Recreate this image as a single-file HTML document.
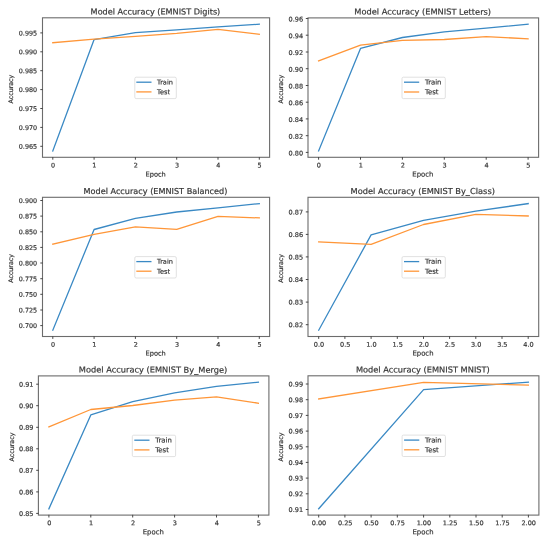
<!DOCTYPE html>
<html lang="en">
<head>
<meta charset="utf-8">
<title>Model Accuracy</title>
<style>
html,body{margin:0;padding:0;background:#fff;}
svg{display:block;}
text{font-family:"DejaVu Sans","Liberation Sans",sans-serif;fill:#363636;stroke:#363636;stroke-width:0.2px;}
.t{font-size:6.4px;}
.h{font-size:8.15px;}
.w .t{font-size:6.5px;}
.w .h{font-size:8.25px;}
.t.lb{font-size:6.6px;}
.w .t.lb{font-size:6.9px;}
.t.yl,.w .t.yl{font-size:6.3px;}
.sp{stroke:#6c6c6c;stroke-width:1.1;fill:none;}
.tk{stroke:#484848;stroke-width:1;}
.ln{fill:none;stroke-width:1.3;stroke-linejoin:round;stroke-linecap:square;}
</style>
</head>
<body>
<svg width="550" height="542" viewBox="0 0 550 542">
<rect width="550" height="542" fill="#ffffff"/>
<g>
<polyline class="ln" stroke="#3a89c4" points="52.8,151.0 94.1,39.6 135.4,32.7 176.7,29.9 218.0,26.9 259.3,24.2"/>
<polyline class="ln" stroke="#ff9638" points="52.8,42.7 94.1,39.1 135.4,36.3 176.7,33.3 218.0,29.3 259.3,34.2"/>
<rect class="sp" x="42.5" y="17.8" width="227.1" height="139.5"/>
<line class="tk" x1="52.8" y1="157.0" x2="52.8" y2="159.7"/><text class="t" text-anchor="middle" transform="translate(53.10,167.50) rotate(0.05)">0</text>
<line class="tk" x1="94.1" y1="157.0" x2="94.1" y2="159.7"/><text class="t" text-anchor="middle" transform="translate(94.40,167.50) rotate(0.05)">1</text>
<line class="tk" x1="135.4" y1="157.0" x2="135.4" y2="159.7"/><text class="t" text-anchor="middle" transform="translate(135.70,167.50) rotate(0.05)">2</text>
<line class="tk" x1="176.7" y1="157.0" x2="176.7" y2="159.7"/><text class="t" text-anchor="middle" transform="translate(177.00,167.50) rotate(0.05)">3</text>
<line class="tk" x1="218.0" y1="157.0" x2="218.0" y2="159.7"/><text class="t" text-anchor="middle" transform="translate(218.30,167.50) rotate(0.05)">4</text>
<line class="tk" x1="259.3" y1="157.0" x2="259.3" y2="159.7"/><text class="t" text-anchor="middle" transform="translate(259.60,167.50) rotate(0.05)">5</text>
<line class="tk" x1="40.3" y1="32.9" x2="42.8" y2="32.9"/><text class="t" text-anchor="end" transform="translate(37.10,35.40) rotate(0.05)">0.995</text>
<line class="tk" x1="40.3" y1="51.8" x2="42.8" y2="51.8"/><text class="t" text-anchor="end" transform="translate(37.10,54.30) rotate(0.05)">0.990</text>
<line class="tk" x1="40.3" y1="70.7" x2="42.8" y2="70.7"/><text class="t" text-anchor="end" transform="translate(37.10,73.20) rotate(0.05)">0.985</text>
<line class="tk" x1="40.3" y1="89.6" x2="42.8" y2="89.6"/><text class="t" text-anchor="end" transform="translate(37.10,92.10) rotate(0.05)">0.980</text>
<line class="tk" x1="40.3" y1="108.5" x2="42.8" y2="108.5"/><text class="t" text-anchor="end" transform="translate(37.10,111.00) rotate(0.05)">0.975</text>
<line class="tk" x1="40.3" y1="127.4" x2="42.8" y2="127.4"/><text class="t" text-anchor="end" transform="translate(37.10,129.90) rotate(0.05)">0.970</text>
<line class="tk" x1="40.3" y1="146.3" x2="42.8" y2="146.3"/><text class="t" text-anchor="end" transform="translate(37.10,148.80) rotate(0.05)">0.965</text>
<text class="h" text-anchor="middle" transform="translate(155.45,14.50) rotate(0.05)">Model Accuracy (EMNIST Digits)</text>
<text class="t lb" text-anchor="middle" transform="translate(155.65,176.40) rotate(0.05)">Epoch</text>
<text class="t yl" text-anchor="middle" transform="translate(13.3,89.1) rotate(-90)">Accuracy</text>
<rect x="134.8" y="77.2" width="41.5" height="21.4" rx="1.4" ry="1.4" fill="#fff" fill-opacity="0.8" stroke="#d4d4d4" stroke-width="0.7"/>
<line x1="136.3" y1="82.2" x2="151.5" y2="82.2" stroke="#3a89c4" stroke-width="1.3"/><line x1="136.3" y1="91.9" x2="151.5" y2="91.9" stroke="#ff9638" stroke-width="1.3"/>
<text class="t lb" transform="translate(157.10,84.50) rotate(0.05)">Train</text><text class="t lb" transform="translate(157.10,94.30) rotate(0.05)">Test</text>
</g>
<g class="w">
<polyline class="ln" stroke="#3a89c4" points="318.6,151.0 360.5,48.4 402.4,37.5 444.3,31.8 486.2,28.1 528.1,24.2"/>
<polyline class="ln" stroke="#ff9638" points="318.6,60.8 360.5,45.1 402.4,40.3 444.3,39.5 486.2,36.6 528.1,38.8"/>
<rect class="sp" x="308.0" y="17.9" width="230.6" height="139.4"/>
<line class="tk" x1="318.6" y1="157.0" x2="318.6" y2="159.7"/><text class="t" text-anchor="middle" transform="translate(318.90,167.50) rotate(0.05)">0</text>
<line class="tk" x1="360.5" y1="157.0" x2="360.5" y2="159.7"/><text class="t" text-anchor="middle" transform="translate(360.80,167.50) rotate(0.05)">1</text>
<line class="tk" x1="402.4" y1="157.0" x2="402.4" y2="159.7"/><text class="t" text-anchor="middle" transform="translate(402.70,167.50) rotate(0.05)">2</text>
<line class="tk" x1="444.3" y1="157.0" x2="444.3" y2="159.7"/><text class="t" text-anchor="middle" transform="translate(444.60,167.50) rotate(0.05)">3</text>
<line class="tk" x1="486.2" y1="157.0" x2="486.2" y2="159.7"/><text class="t" text-anchor="middle" transform="translate(486.50,167.50) rotate(0.05)">4</text>
<line class="tk" x1="528.1" y1="157.0" x2="528.1" y2="159.7"/><text class="t" text-anchor="middle" transform="translate(528.40,167.50) rotate(0.05)">5</text>
<line class="tk" x1="305.8" y1="18.5" x2="308.3" y2="18.5"/><text class="t" text-anchor="end" transform="translate(303.10,21.50) rotate(0.05)">0.96</text>
<line class="tk" x1="305.8" y1="35.2" x2="308.3" y2="35.2"/><text class="t" text-anchor="end" transform="translate(303.10,38.20) rotate(0.05)">0.94</text>
<line class="tk" x1="305.8" y1="52.0" x2="308.3" y2="52.0"/><text class="t" text-anchor="end" transform="translate(303.10,55.00) rotate(0.05)">0.92</text>
<line class="tk" x1="305.8" y1="68.7" x2="308.3" y2="68.7"/><text class="t" text-anchor="end" transform="translate(303.10,71.70) rotate(0.05)">0.90</text>
<line class="tk" x1="305.8" y1="85.5" x2="308.3" y2="85.5"/><text class="t" text-anchor="end" transform="translate(303.10,88.50) rotate(0.05)">0.88</text>
<line class="tk" x1="305.8" y1="102.2" x2="308.3" y2="102.2"/><text class="t" text-anchor="end" transform="translate(303.10,105.20) rotate(0.05)">0.86</text>
<line class="tk" x1="305.8" y1="118.9" x2="308.3" y2="118.9"/><text class="t" text-anchor="end" transform="translate(303.10,121.90) rotate(0.05)">0.84</text>
<line class="tk" x1="305.8" y1="135.7" x2="308.3" y2="135.7"/><text class="t" text-anchor="end" transform="translate(303.10,138.70) rotate(0.05)">0.82</text>
<line class="tk" x1="305.8" y1="152.4" x2="308.3" y2="152.4"/><text class="t" text-anchor="end" transform="translate(303.10,155.40) rotate(0.05)">0.80</text>
<text class="h" text-anchor="middle" transform="translate(422.70,14.60) rotate(0.05)">Model Accuracy (EMNIST Letters)</text>
<text class="t lb" text-anchor="middle" transform="translate(422.90,176.40) rotate(0.05)">Epoch</text>
<text class="t yl" text-anchor="middle" transform="translate(283.1,89.1) rotate(-90)">Accuracy</text>
<rect x="402.0" y="77.2" width="43.3" height="21.4" rx="1.4" ry="1.4" fill="#fff" fill-opacity="0.8" stroke="#d4d4d4" stroke-width="0.7"/>
<line x1="404.0" y1="82.2" x2="419.2" y2="82.2" stroke="#3a89c4" stroke-width="1.3"/><line x1="404.0" y1="92.0" x2="419.2" y2="92.0" stroke="#ff9638" stroke-width="1.3"/>
<text class="t lb" transform="translate(424.95,84.55) rotate(0.05)">Train</text><text class="t lb" transform="translate(424.95,94.35) rotate(0.05)">Test</text>
</g>
<g>
<polyline class="ln" stroke="#3a89c4" points="52.8,330.2 94.1,229.5 135.4,218.3 176.7,212.0 218.0,207.9 259.3,203.6"/>
<polyline class="ln" stroke="#ff9638" points="52.8,244.1 94.1,234.3 135.4,226.9 176.7,229.3 218.0,216.4 259.3,217.9"/>
<rect class="sp" x="42.5" y="197.3" width="227.1" height="139.2"/>
<line class="tk" x1="52.8" y1="336.2" x2="52.8" y2="338.9"/><text class="t" text-anchor="middle" transform="translate(53.10,346.70) rotate(0.05)">0</text>
<line class="tk" x1="94.1" y1="336.2" x2="94.1" y2="338.9"/><text class="t" text-anchor="middle" transform="translate(94.40,346.70) rotate(0.05)">1</text>
<line class="tk" x1="135.4" y1="336.2" x2="135.4" y2="338.9"/><text class="t" text-anchor="middle" transform="translate(135.70,346.70) rotate(0.05)">2</text>
<line class="tk" x1="176.7" y1="336.2" x2="176.7" y2="338.9"/><text class="t" text-anchor="middle" transform="translate(177.00,346.70) rotate(0.05)">3</text>
<line class="tk" x1="218.0" y1="336.2" x2="218.0" y2="338.9"/><text class="t" text-anchor="middle" transform="translate(218.30,346.70) rotate(0.05)">4</text>
<line class="tk" x1="259.3" y1="336.2" x2="259.3" y2="338.9"/><text class="t" text-anchor="middle" transform="translate(259.60,346.70) rotate(0.05)">5</text>
<line class="tk" x1="40.3" y1="200.5" x2="42.8" y2="200.5"/><text class="t" text-anchor="end" transform="translate(37.10,203.00) rotate(0.05)">0.900</text>
<line class="tk" x1="40.3" y1="216.1" x2="42.8" y2="216.1"/><text class="t" text-anchor="end" transform="translate(37.10,218.60) rotate(0.05)">0.875</text>
<line class="tk" x1="40.3" y1="231.8" x2="42.8" y2="231.8"/><text class="t" text-anchor="end" transform="translate(37.10,234.30) rotate(0.05)">0.850</text>
<line class="tk" x1="40.3" y1="247.4" x2="42.8" y2="247.4"/><text class="t" text-anchor="end" transform="translate(37.10,249.90) rotate(0.05)">0.825</text>
<line class="tk" x1="40.3" y1="263.0" x2="42.8" y2="263.0"/><text class="t" text-anchor="end" transform="translate(37.10,265.50) rotate(0.05)">0.800</text>
<line class="tk" x1="40.3" y1="278.7" x2="42.8" y2="278.7"/><text class="t" text-anchor="end" transform="translate(37.10,281.20) rotate(0.05)">0.775</text>
<line class="tk" x1="40.3" y1="294.3" x2="42.8" y2="294.3"/><text class="t" text-anchor="end" transform="translate(37.10,296.80) rotate(0.05)">0.750</text>
<line class="tk" x1="40.3" y1="310.0" x2="42.8" y2="310.0"/><text class="t" text-anchor="end" transform="translate(37.10,312.50) rotate(0.05)">0.725</text>
<line class="tk" x1="40.3" y1="325.6" x2="42.8" y2="325.6"/><text class="t" text-anchor="end" transform="translate(37.10,328.10) rotate(0.05)">0.700</text>
<text class="h" text-anchor="middle" transform="translate(155.45,194.00) rotate(0.05)">Model Accuracy (EMNIST Balanced)</text>
<text class="t lb" text-anchor="middle" transform="translate(155.65,355.60) rotate(0.05)">Epoch</text>
<text class="t yl" text-anchor="middle" transform="translate(13.3,268.4) rotate(-90)">Accuracy</text>
<rect x="134.8" y="256.6" width="41.5" height="21.4" rx="1.4" ry="1.4" fill="#fff" fill-opacity="0.8" stroke="#d4d4d4" stroke-width="0.7"/>
<line x1="136.3" y1="261.6" x2="151.5" y2="261.6" stroke="#3a89c4" stroke-width="1.3"/><line x1="136.3" y1="271.2" x2="151.5" y2="271.2" stroke="#ff9638" stroke-width="1.3"/>
<text class="t lb" transform="translate(157.10,263.85) rotate(0.05)">Train</text><text class="t lb" transform="translate(157.10,273.65) rotate(0.05)">Test</text>
</g>
<g class="w">
<polyline class="ln" stroke="#3a89c4" points="318.7,330.2 371.1,234.9 423.5,220.3 475.8,211.2 528.2,203.6"/>
<polyline class="ln" stroke="#ff9638" points="318.7,241.9 371.1,244.3 423.5,224.5 475.8,214.4 528.2,216.0"/>
<rect class="sp" x="308.0" y="197.3" width="230.7" height="139.2"/>
<line class="tk" x1="318.7" y1="336.2" x2="318.7" y2="338.9"/><text class="t" text-anchor="middle" transform="translate(319.00,346.70) rotate(0.05)">0.0</text>
<line class="tk" x1="344.9" y1="336.2" x2="344.9" y2="338.9"/><text class="t" text-anchor="middle" transform="translate(345.20,346.70) rotate(0.05)">0.5</text>
<line class="tk" x1="371.1" y1="336.2" x2="371.1" y2="338.9"/><text class="t" text-anchor="middle" transform="translate(371.40,346.70) rotate(0.05)">1.0</text>
<line class="tk" x1="397.3" y1="336.2" x2="397.3" y2="338.9"/><text class="t" text-anchor="middle" transform="translate(397.60,346.70) rotate(0.05)">1.5</text>
<line class="tk" x1="423.5" y1="336.2" x2="423.5" y2="338.9"/><text class="t" text-anchor="middle" transform="translate(423.80,346.70) rotate(0.05)">2.0</text>
<line class="tk" x1="449.6" y1="336.2" x2="449.6" y2="338.9"/><text class="t" text-anchor="middle" transform="translate(449.90,346.70) rotate(0.05)">2.5</text>
<line class="tk" x1="475.8" y1="336.2" x2="475.8" y2="338.9"/><text class="t" text-anchor="middle" transform="translate(476.10,346.70) rotate(0.05)">3.0</text>
<line class="tk" x1="502.0" y1="336.2" x2="502.0" y2="338.9"/><text class="t" text-anchor="middle" transform="translate(502.30,346.70) rotate(0.05)">3.5</text>
<line class="tk" x1="528.2" y1="336.2" x2="528.2" y2="338.9"/><text class="t" text-anchor="middle" transform="translate(528.50,346.70) rotate(0.05)">4.0</text>
<line class="tk" x1="305.8" y1="211.9" x2="308.3" y2="211.9"/><text class="t" text-anchor="end" transform="translate(303.10,214.40) rotate(0.05)">0.87</text>
<line class="tk" x1="305.8" y1="234.4" x2="308.3" y2="234.4"/><text class="t" text-anchor="end" transform="translate(303.10,236.90) rotate(0.05)">0.86</text>
<line class="tk" x1="305.8" y1="256.9" x2="308.3" y2="256.9"/><text class="t" text-anchor="end" transform="translate(303.10,259.40) rotate(0.05)">0.85</text>
<line class="tk" x1="305.8" y1="279.5" x2="308.3" y2="279.5"/><text class="t" text-anchor="end" transform="translate(303.10,282.00) rotate(0.05)">0.84</text>
<line class="tk" x1="305.8" y1="302.1" x2="308.3" y2="302.1"/><text class="t" text-anchor="end" transform="translate(303.10,304.60) rotate(0.05)">0.83</text>
<line class="tk" x1="305.8" y1="324.7" x2="308.3" y2="324.7"/><text class="t" text-anchor="end" transform="translate(303.10,327.20) rotate(0.05)">0.82</text>
<text class="h" text-anchor="middle" transform="translate(422.75,194.00) rotate(0.05)">Model Accuracy (EMNIST By_Class)</text>
<text class="t lb" text-anchor="middle" transform="translate(422.95,355.60) rotate(0.05)">Epoch</text>
<text class="t yl" text-anchor="middle" transform="translate(283.1,268.4) rotate(-90)">Accuracy</text>
<rect x="402.0" y="256.6" width="43.3" height="21.4" rx="1.4" ry="1.4" fill="#fff" fill-opacity="0.8" stroke="#d4d4d4" stroke-width="0.7"/>
<line x1="404.0" y1="261.6" x2="419.2" y2="261.6" stroke="#3a89c4" stroke-width="1.3"/><line x1="404.0" y1="271.2" x2="419.2" y2="271.2" stroke="#ff9638" stroke-width="1.3"/>
<text class="t lb" transform="translate(425.00,263.85) rotate(0.05)">Train</text><text class="t lb" transform="translate(425.00,273.65) rotate(0.05)">Test</text>
</g>
<g class="w">
<polyline class="ln" stroke="#3a89c4" points="48.9,508.8 90.8,414.9 132.7,401.6 174.6,392.8 216.5,386.4 258.4,382.2"/>
<polyline class="ln" stroke="#ff9638" points="48.9,426.9 90.8,409.5 132.7,405.5 174.6,400.1 216.5,396.8 258.4,403.2"/>
<rect class="sp" x="38.4" y="375.9" width="230.5" height="139.2"/>
<line class="tk" x1="48.9" y1="514.8" x2="48.9" y2="517.5"/><text class="t" text-anchor="middle" transform="translate(49.20,525.30) rotate(0.05)">0</text>
<line class="tk" x1="90.8" y1="514.8" x2="90.8" y2="517.5"/><text class="t" text-anchor="middle" transform="translate(91.10,525.30) rotate(0.05)">1</text>
<line class="tk" x1="132.7" y1="514.8" x2="132.7" y2="517.5"/><text class="t" text-anchor="middle" transform="translate(133.00,525.30) rotate(0.05)">2</text>
<line class="tk" x1="174.6" y1="514.8" x2="174.6" y2="517.5"/><text class="t" text-anchor="middle" transform="translate(174.90,525.30) rotate(0.05)">3</text>
<line class="tk" x1="216.5" y1="514.8" x2="216.5" y2="517.5"/><text class="t" text-anchor="middle" transform="translate(216.80,525.30) rotate(0.05)">4</text>
<line class="tk" x1="258.4" y1="514.8" x2="258.4" y2="517.5"/><text class="t" text-anchor="middle" transform="translate(258.70,525.30) rotate(0.05)">5</text>
<line class="tk" x1="36.2" y1="384.2" x2="38.7" y2="384.2"/><text class="t" text-anchor="end" transform="translate(33.50,386.70) rotate(0.05)">0.91</text>
<line class="tk" x1="36.2" y1="405.7" x2="38.7" y2="405.7"/><text class="t" text-anchor="end" transform="translate(33.50,408.20) rotate(0.05)">0.90</text>
<line class="tk" x1="36.2" y1="427.3" x2="38.7" y2="427.3"/><text class="t" text-anchor="end" transform="translate(33.50,429.80) rotate(0.05)">0.89</text>
<line class="tk" x1="36.2" y1="448.8" x2="38.7" y2="448.8"/><text class="t" text-anchor="end" transform="translate(33.50,451.30) rotate(0.05)">0.88</text>
<line class="tk" x1="36.2" y1="470.3" x2="38.7" y2="470.3"/><text class="t" text-anchor="end" transform="translate(33.50,472.80) rotate(0.05)">0.87</text>
<line class="tk" x1="36.2" y1="491.9" x2="38.7" y2="491.9"/><text class="t" text-anchor="end" transform="translate(33.50,494.40) rotate(0.05)">0.86</text>
<line class="tk" x1="36.2" y1="513.4" x2="38.7" y2="513.4"/><text class="t" text-anchor="end" transform="translate(33.50,515.90) rotate(0.05)">0.85</text>
<text class="h" text-anchor="middle" transform="translate(153.05,372.60) rotate(0.05)">Model Accuracy (EMNIST By_Merge)</text>
<text class="t lb" text-anchor="middle" transform="translate(153.25,534.20) rotate(0.05)">Epoch</text>
<text class="t yl" text-anchor="middle" transform="translate(13.5,447.0) rotate(-90)">Accuracy</text>
<rect x="132.3" y="435.2" width="43.3" height="21.4" rx="1.4" ry="1.4" fill="#fff" fill-opacity="0.8" stroke="#d4d4d4" stroke-width="0.7"/>
<line x1="134.3" y1="440.2" x2="149.5" y2="440.2" stroke="#3a89c4" stroke-width="1.3"/><line x1="134.3" y1="449.9" x2="149.5" y2="449.9" stroke="#ff9638" stroke-width="1.3"/>
<text class="t lb" transform="translate(155.30,442.45) rotate(0.05)">Train</text><text class="t lb" transform="translate(155.30,452.25) rotate(0.05)">Test</text>
</g>
<g class="w">
<polyline class="ln" stroke="#3a89c4" points="318.7,508.8 423.6,389.6 528.4,382.1"/>
<polyline class="ln" stroke="#ff9638" points="318.7,399.0 423.6,382.4 528.4,385.1"/>
<rect class="sp" x="308.0" y="375.8" width="230.9" height="139.3"/>
<line class="tk" x1="318.7" y1="514.8" x2="318.7" y2="517.5"/><text class="t" text-anchor="middle" transform="translate(319.00,525.30) rotate(0.05)">0.00</text>
<line class="tk" x1="344.9" y1="514.8" x2="344.9" y2="517.5"/><text class="t" text-anchor="middle" transform="translate(345.20,525.30) rotate(0.05)">0.25</text>
<line class="tk" x1="371.1" y1="514.8" x2="371.1" y2="517.5"/><text class="t" text-anchor="middle" transform="translate(371.40,525.30) rotate(0.05)">0.50</text>
<line class="tk" x1="397.3" y1="514.8" x2="397.3" y2="517.5"/><text class="t" text-anchor="middle" transform="translate(397.60,525.30) rotate(0.05)">0.75</text>
<line class="tk" x1="423.6" y1="514.8" x2="423.6" y2="517.5"/><text class="t" text-anchor="middle" transform="translate(423.90,525.30) rotate(0.05)">1.00</text>
<line class="tk" x1="449.8" y1="514.8" x2="449.8" y2="517.5"/><text class="t" text-anchor="middle" transform="translate(450.10,525.30) rotate(0.05)">1.25</text>
<line class="tk" x1="476.0" y1="514.8" x2="476.0" y2="517.5"/><text class="t" text-anchor="middle" transform="translate(476.30,525.30) rotate(0.05)">1.50</text>
<line class="tk" x1="502.2" y1="514.8" x2="502.2" y2="517.5"/><text class="t" text-anchor="middle" transform="translate(502.50,525.30) rotate(0.05)">1.75</text>
<line class="tk" x1="528.4" y1="514.8" x2="528.4" y2="517.5"/><text class="t" text-anchor="middle" transform="translate(528.70,525.30) rotate(0.05)">2.00</text>
<line class="tk" x1="305.8" y1="384.0" x2="308.3" y2="384.0"/><text class="t" text-anchor="end" transform="translate(303.10,386.50) rotate(0.05)">0.99</text>
<line class="tk" x1="305.8" y1="399.7" x2="308.3" y2="399.7"/><text class="t" text-anchor="end" transform="translate(303.10,402.20) rotate(0.05)">0.98</text>
<line class="tk" x1="305.8" y1="415.4" x2="308.3" y2="415.4"/><text class="t" text-anchor="end" transform="translate(303.10,417.90) rotate(0.05)">0.97</text>
<line class="tk" x1="305.8" y1="431.1" x2="308.3" y2="431.1"/><text class="t" text-anchor="end" transform="translate(303.10,433.60) rotate(0.05)">0.96</text>
<line class="tk" x1="305.8" y1="446.8" x2="308.3" y2="446.8"/><text class="t" text-anchor="end" transform="translate(303.10,449.30) rotate(0.05)">0.95</text>
<line class="tk" x1="305.8" y1="462.4" x2="308.3" y2="462.4"/><text class="t" text-anchor="end" transform="translate(303.10,464.90) rotate(0.05)">0.94</text>
<line class="tk" x1="305.8" y1="478.1" x2="308.3" y2="478.1"/><text class="t" text-anchor="end" transform="translate(303.10,480.60) rotate(0.05)">0.93</text>
<line class="tk" x1="305.8" y1="493.8" x2="308.3" y2="493.8"/><text class="t" text-anchor="end" transform="translate(303.10,496.30) rotate(0.05)">0.92</text>
<line class="tk" x1="305.8" y1="509.5" x2="308.3" y2="509.5"/><text class="t" text-anchor="end" transform="translate(303.10,512.00) rotate(0.05)">0.91</text>
<text class="h" text-anchor="middle" transform="translate(422.85,372.50) rotate(0.05)">Model Accuracy (EMNIST MNIST)</text>
<text class="t lb" text-anchor="middle" transform="translate(423.05,534.20) rotate(0.05)">Epoch</text>
<text class="t yl" text-anchor="middle" transform="translate(283.1,447.0) rotate(-90)">Accuracy</text>
<rect x="402.1" y="435.1" width="43.3" height="21.4" rx="1.4" ry="1.4" fill="#fff" fill-opacity="0.8" stroke="#d4d4d4" stroke-width="0.7"/>
<line x1="404.1" y1="440.1" x2="419.3" y2="440.1" stroke="#3a89c4" stroke-width="1.3"/><line x1="404.1" y1="449.8" x2="419.3" y2="449.8" stroke="#ff9638" stroke-width="1.3"/>
<text class="t lb" transform="translate(425.10,442.40) rotate(0.05)">Train</text><text class="t lb" transform="translate(425.10,452.20) rotate(0.05)">Test</text>
</g>
</svg>
</body>
</html>
